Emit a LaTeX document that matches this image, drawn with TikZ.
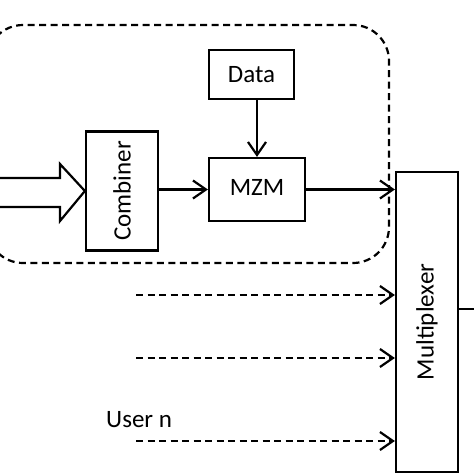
\documentclass[tikz,border=0pt]{standalone}
\usepackage{fontspec}
\setmainfont{Carlito}
\usetikzlibrary{arrows.meta}
\begin{document}
\begin{tikzpicture}[x=1pt,y=-1pt,
  every node/.style={font=\fontsize{25}{30}\selectfont},
  blk/.style={draw, line width=2.2pt, inner sep=0pt, minimum width=#1},
  conn/.style={line width=2.2pt, -{Straight Barb[length=13pt,width=18pt,line width=2.2pt]}},
  dconn/.style={conn, dash pattern=on 7pt off 4.5pt},
  grp/.style={draw, line width=2.2pt, dash pattern=on 7pt off 4.5pt, rounded corners=36pt}]
\useasboundingbox (0,0) rectangle (474,474);
\clip (0,0) rectangle (474,474);
\draw[grp] (-13,25) rectangle (389,263);
\node[blk=85pt, minimum height=49pt] (data) at (251.5,74.5) {Data};
\node[blk=96pt, minimum height=63pt] (mzm) at (257,189.5) {\raisebox{4pt}{MZM}};
\node[blk=72pt, minimum height=119pt] (comb) at (122,191) {\rotatebox{90}{Combiner}};
\node[blk=62pt, minimum height=300pt] (mux) at (427,322) {\rotatebox{90}{Multiplexer}};
\draw[line width=2.2pt, line join=miter] (-5,178) -- (60,178) -- (60,164) -- (comb.west) -- (60,221) -- (60,207) -- (-5,207);
\draw[conn] (data.south -| mzm.north) -- (mzm.north);
\draw[conn] (comb.east |- mzm.west) -- (mzm.west);
\draw[conn] (mzm.east) -- (mux.west |- mzm.east);
\coordinate (u1) at (136,295);
\coordinate (u2) at (136,358);
\coordinate (u3) at (136,441);
\coordinate (out) at (480,309);
\draw[dconn] (u1) -- (mux.west |- u1);
\draw[dconn] (u2) -- (mux.west |- u2);
\draw[dconn] (u3) -- (mux.west |- u3);
\draw[line width=2.2pt] (mux.east |- out) -- (out);
\node[anchor=west, inner sep=0pt] (usern) at (106,420) {User n};
\end{tikzpicture}
\end{document}
